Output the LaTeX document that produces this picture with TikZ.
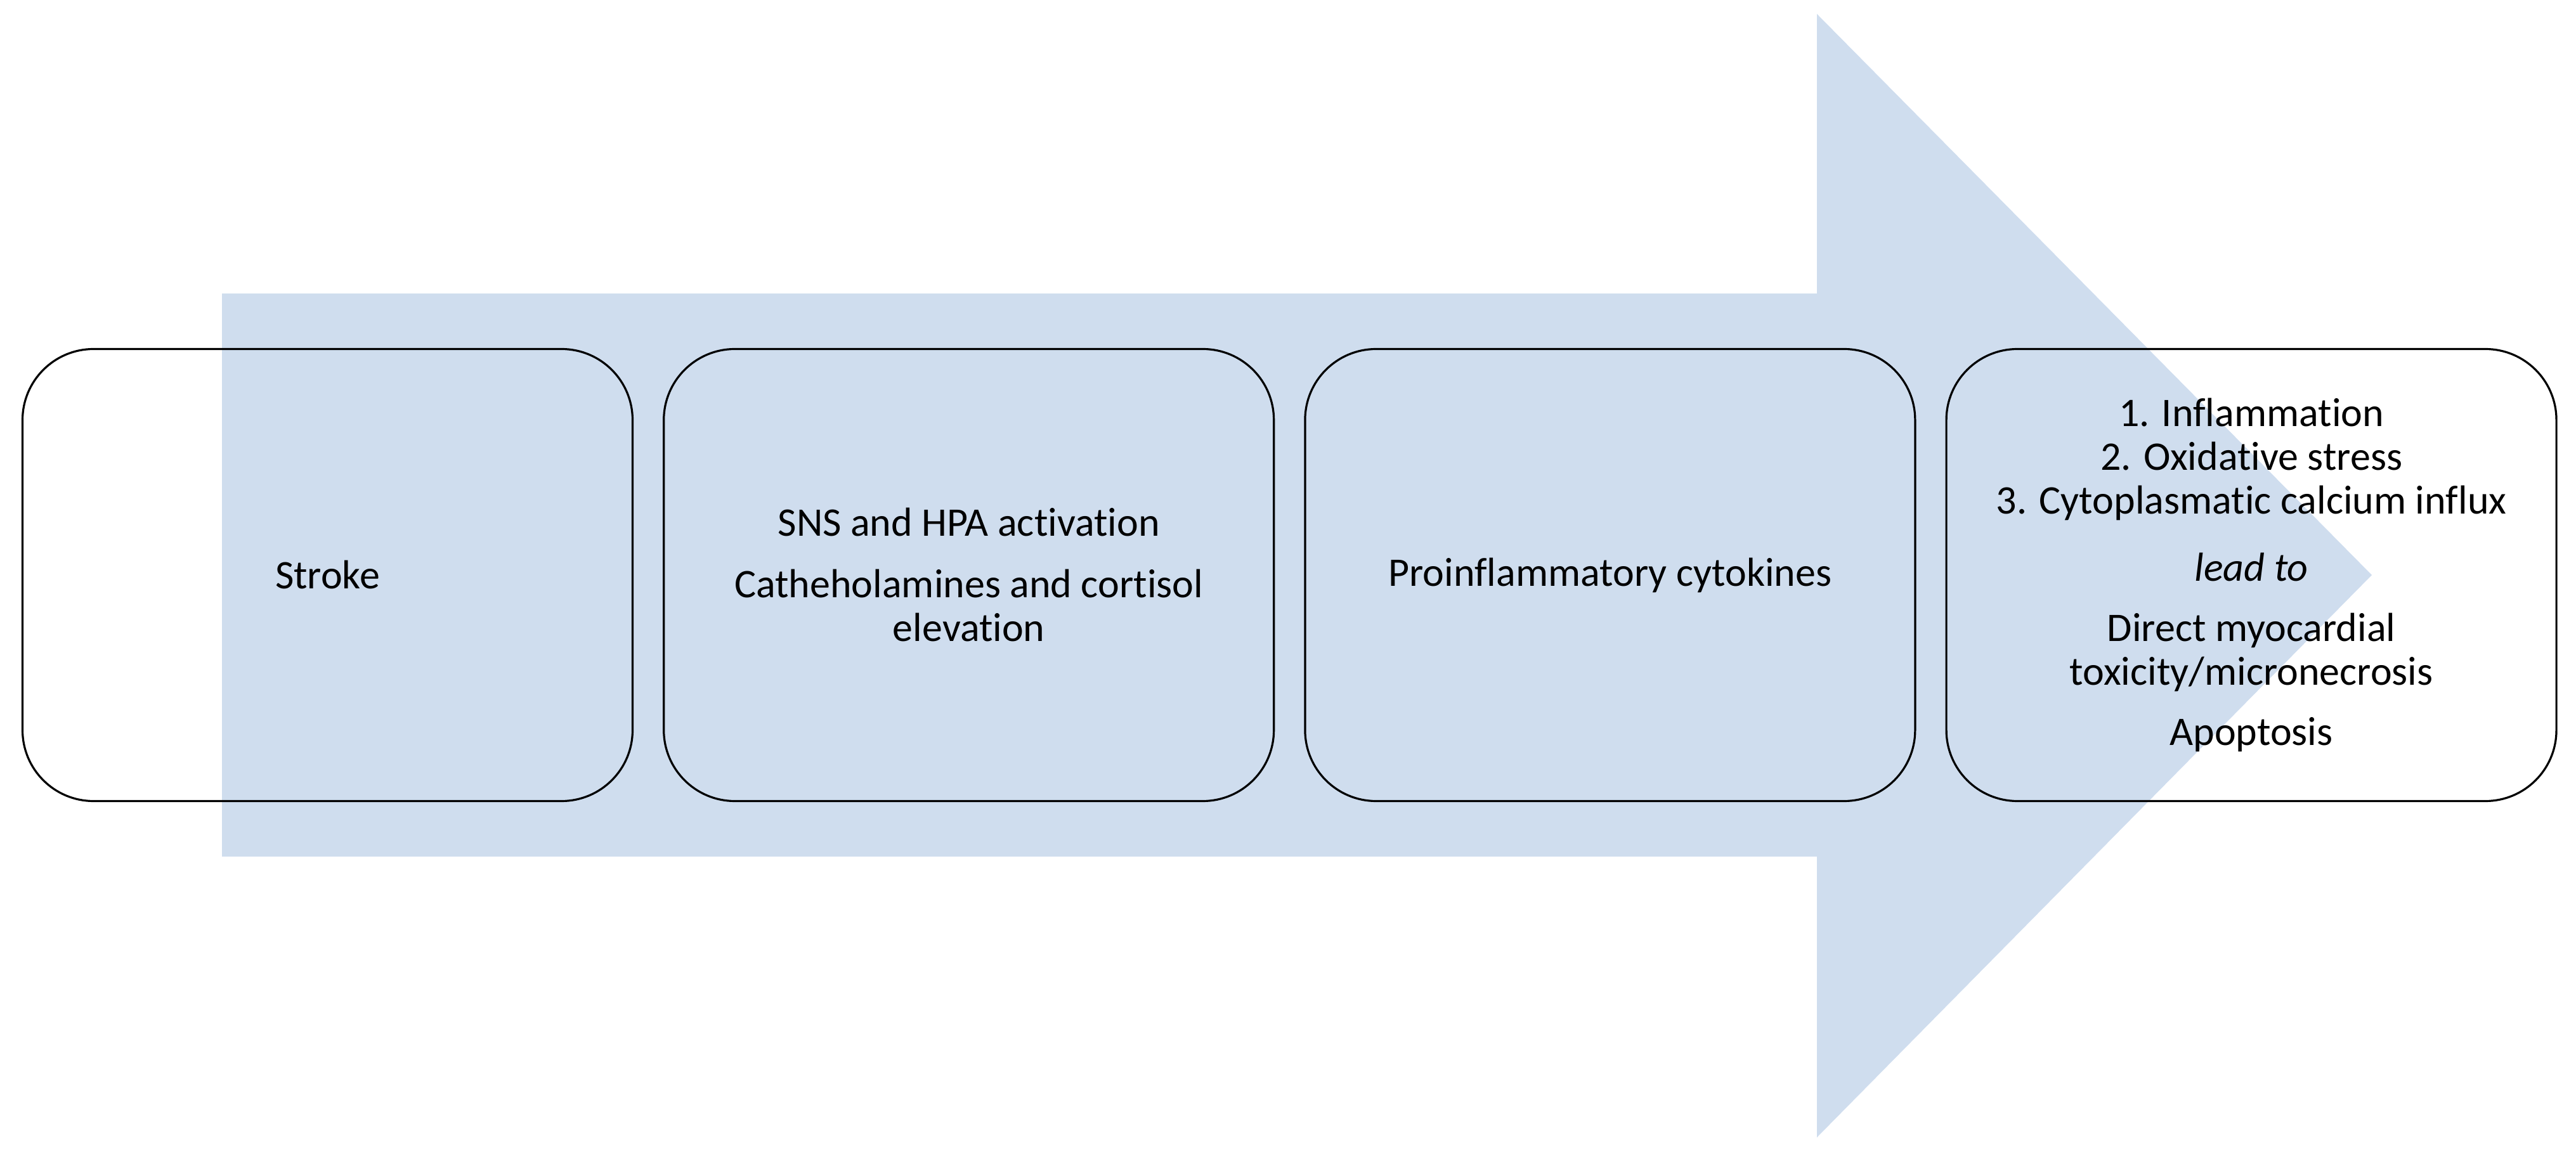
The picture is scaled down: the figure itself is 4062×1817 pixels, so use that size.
\documentclass[tikz,border=0pt]{standalone}
\usepackage{fontspec}
\setmainfont[Ligatures=NoCommon]{Carlito}
\usetikzlibrary{positioning}
\definecolor{arrowblue}{RGB}{207,221,238}

\begin{document}
\begin{tikzpicture}[x=0.25pt, y=-0.25pt,
    stage/.style={draw=black, line width=0.8pt, rounded corners=28pt,
        minimum width=240.5pt, minimum height=178.25pt, align=center,
        inner sep=0pt, font=\fontsize{16}{17.25}\selectfont},
    node distance=11.5pt]
            % frame of the page
                \useasboundingbox (0,0) rectangle (4062,1817);
            % big arrow behind the stages
                \fill[arrowblue] (350,463) -- (2865,463) -- (2865,22) -- (3740,907)
                  -- (2865,1794) -- (2865,1351) -- (350,1351) -- cycle;
            % stages
                \node[stage] (stroke) at (516.5,907) {Stroke};
                \node[stage, right=of stroke] (activation) {SNS and HPA activation\\[7pt]
                  Catheholamines and cortisol\\elevation};
                \node[stage, right=of activation] (cytokines) {Proinflammatory cytokines};
                \node[stage, right=of cytokines] (damage) {1. Inflammation\\
                  2. Oxidative stress\\
                  3. Cytoplasmatic calcium influx\\[9.25pt]
                  \textit{lead to}\\[6.5pt]
                  Direct myocardial\\toxicity/micronecrosis\\[6.5pt]
                  Apoptosis};
\end{tikzpicture}
\end{document}
